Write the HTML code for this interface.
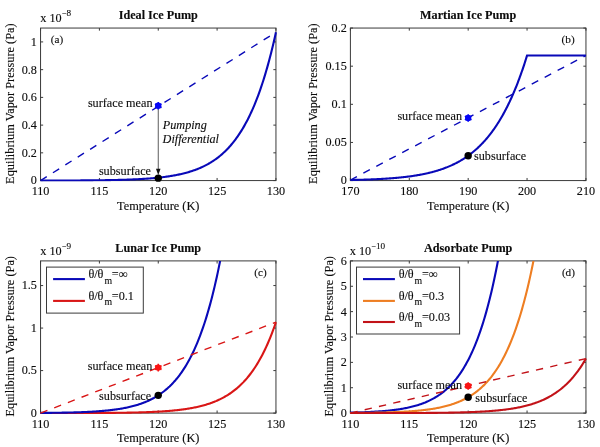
<!DOCTYPE html>
<html lang="en"><head><meta charset="utf-8"><title>Ice Pump Figure</title>
<style>html,body{margin:0;padding:0;background:#fff;}svg{display:block}text{stroke:#0c0c0c;stroke-width:.12px}</style></head>
<body>
<svg width="600" height="447" viewBox="0 0 600 447" font-family='"Liberation Serif", "DejaVu Serif", serif' fill="#0c0c0c">
<clipPath id="c1"><rect x="39.55" y="28.05" width="237.40" height="153.52"/></clipPath>
<rect x="40.55" y="28.05" width="235.40" height="152.52" fill="none" stroke="#3a3a3a" stroke-width="1.0"/>
<path d="M40.55,180.57v-2.6M40.55,28.05v2.6M99.40,180.57v-2.6M99.40,28.05v2.6M158.25,180.57v-2.6M158.25,28.05v2.6M217.10,180.57v-2.6M217.10,28.05v2.6M275.95,180.57v-2.6M275.95,28.05v2.6M40.55,180.57h2.6M275.95,180.57h-2.6M40.55,152.84h2.6M275.95,152.84h-2.6M40.55,125.11h2.6M275.95,125.11h-2.6M40.55,97.38h2.6M275.95,97.38h-2.6M40.55,69.65h2.6M275.95,69.65h-2.6M40.55,41.92h2.6M275.95,41.92h-2.6" stroke="#3a3a3a" stroke-width="1.0" fill="none"/>
<path clip-path="url(#c1)" d="M40.55,180.54 L41.53,180.54 L42.52,180.54 L43.50,180.54 L44.49,180.54 L45.47,180.54 L46.46,180.53 L47.44,180.53 L48.43,180.53 L49.41,180.53 L50.40,180.53 L51.38,180.53 L52.37,180.52 L53.35,180.52 L54.34,180.52 L55.32,180.52 L56.31,180.52 L57.29,180.51 L58.28,180.51 L59.26,180.51 L60.25,180.51 L61.23,180.50 L62.22,180.50 L63.20,180.50 L64.19,180.49 L65.17,180.49 L66.16,180.49 L67.14,180.48 L68.13,180.48 L69.11,180.48 L70.10,180.47 L71.08,180.47 L72.07,180.47 L73.05,180.46 L74.04,180.46 L75.02,180.45 L76.01,180.45 L76.99,180.44 L77.98,180.44 L78.96,180.43 L79.95,180.43 L80.93,180.42 L81.92,180.41 L82.90,180.41 L83.89,180.40 L84.87,180.39 L85.86,180.39 L86.84,180.38 L87.83,180.37 L88.81,180.36 L89.80,180.36 L90.78,180.35 L91.77,180.34 L92.75,180.33 L93.74,180.32 L94.72,180.31 L95.71,180.30 L96.69,180.29 L97.68,180.28 L98.66,180.27 L99.65,180.25 L100.63,180.24 L101.62,180.23 L102.60,180.21 L103.59,180.20 L104.57,180.19 L105.56,180.17 L106.54,180.16 L107.53,180.14 L108.51,180.12 L109.50,180.10 L110.48,180.09 L111.47,180.07 L112.45,180.05 L113.44,180.03 L114.42,180.01 L115.41,179.99 L116.39,179.96 L117.38,179.94 L118.36,179.92 L119.34,179.89 L120.33,179.86 L121.31,179.84 L122.30,179.81 L123.28,179.78 L124.27,179.75 L125.25,179.72 L126.24,179.69 L127.22,179.65 L128.21,179.62 L129.19,179.58 L130.18,179.54 L131.16,179.50 L132.15,179.46 L133.13,179.42 L134.12,179.38 L135.10,179.33 L136.09,179.29 L137.07,179.24 L138.06,179.19 L139.04,179.14 L140.03,179.09 L141.01,179.03 L142.00,178.97 L142.98,178.91 L143.97,178.85 L144.95,178.79 L145.94,178.72 L146.92,178.65 L147.91,178.58 L148.89,178.51 L149.88,178.43 L150.86,178.36 L151.85,178.27 L152.83,178.19 L153.82,178.10 L154.80,178.01 L155.79,177.92 L156.77,177.82 L157.76,177.72 L158.74,177.62 L159.73,177.51 L160.71,177.40 L161.70,177.29 L162.68,177.17 L163.67,177.05 L164.65,176.92 L165.64,176.79 L166.62,176.65 L167.61,176.51 L168.59,176.37 L169.58,176.22 L170.56,176.06 L171.55,175.90 L172.53,175.73 L173.52,175.56 L174.50,175.38 L175.49,175.20 L176.47,175.01 L177.46,174.81 L178.44,174.61 L179.43,174.40 L180.41,174.18 L181.40,173.96 L182.38,173.73 L183.37,173.49 L184.35,173.24 L185.34,172.98 L186.32,172.72 L187.31,172.44 L188.29,172.16 L189.28,171.87 L190.26,171.57 L191.25,171.25 L192.23,170.93 L193.22,170.60 L194.20,170.25 L195.19,169.90 L196.17,169.53 L197.16,169.15 L198.14,168.76 L199.12,168.35 L200.11,167.93 L201.09,167.50 L202.08,167.06 L203.06,166.59 L204.05,166.12 L205.03,165.63 L206.02,165.12 L207.00,164.59 L207.99,164.05 L208.97,163.49 L209.96,162.92 L210.94,162.32 L211.93,161.71 L212.91,161.07 L213.90,160.42 L214.88,159.74 L215.87,159.04 L216.85,158.32 L217.84,157.58 L218.82,156.81 L219.81,156.02 L220.79,155.20 L221.78,154.36 L222.76,153.49 L223.75,152.59 L224.73,151.67 L225.72,150.71 L226.70,149.73 L227.69,148.71 L228.67,147.66 L229.66,146.58 L230.64,145.46 L231.63,144.31 L232.61,143.12 L233.60,141.90 L234.58,140.64 L235.57,139.33 L236.55,137.99 L237.54,136.60 L238.52,135.18 L239.51,133.70 L240.49,132.19 L241.48,130.62 L242.46,129.01 L243.45,127.34 L244.43,125.63 L245.42,123.86 L246.40,122.04 L247.39,120.16 L248.37,118.22 L249.36,116.23 L250.34,114.17 L251.33,112.05 L252.31,109.86 L253.30,107.61 L254.28,105.29 L255.27,102.90 L256.25,100.44 L257.24,97.90 L258.22,95.29 L259.21,92.59 L260.19,89.82 L261.18,86.96 L262.16,84.01 L263.15,80.98 L264.13,77.85 L265.12,74.63 L266.10,71.32 L267.09,67.90 L268.07,64.39 L269.06,60.77 L270.04,57.04 L271.03,53.19 L272.01,49.24 L273.00,45.17 L273.98,40.97 L274.97,36.66 L275.95,32.21" stroke="#0909b8" stroke-width="2.1" fill="none" stroke-linejoin="round"/>
<path clip-path="url(#c1)" d="M40.55,180.54L275.95,32.21" stroke="#0909b8" stroke-width="1.4" stroke-dasharray="7.35 7.3" fill="none"/>
<path d="M158.25,107.70L158.25,171.67" stroke="#333" stroke-width="0.8" fill="none"/>
<path d="M155.95,168.87L160.55,168.87L158.25,175.07Z" fill="#111"/>
<circle cx="158.25" cy="105.70" r="3.2" fill="#0505f5"/>
<path d="M158.25,101.90L158.25,109.50M154.96,103.80L161.54,107.60M161.54,103.80L154.96,107.60" stroke="#0505f5" stroke-width="1.5" fill="none"/>
<circle cx="158.25" cy="178.17" r="3.7" fill="#000"/>
<text x="40.55" y="195.17" text-anchor="middle" font-size="12.2">110</text>
<text x="99.40" y="195.17" text-anchor="middle" font-size="12.2">115</text>
<text x="158.25" y="195.17" text-anchor="middle" font-size="12.2">120</text>
<text x="217.10" y="195.17" text-anchor="middle" font-size="12.2">125</text>
<text x="275.95" y="195.17" text-anchor="middle" font-size="12.2">130</text>
<text x="36.95" y="184.47" text-anchor="end" font-size="12.2">0</text>
<text x="36.95" y="156.74" text-anchor="end" font-size="12.2">0.2</text>
<text x="36.95" y="129.01" text-anchor="end" font-size="12.2">0.4</text>
<text x="36.95" y="101.28" text-anchor="end" font-size="12.2">0.6</text>
<text x="36.95" y="73.55" text-anchor="end" font-size="12.2">0.8</text>
<text x="36.95" y="45.82" text-anchor="end" font-size="12.2">1</text>
<text x="158.25" y="19.0" text-anchor="middle" font-weight="bold" font-size="12.2">Ideal Ice Pump</text>
<text x="40.3" y="22.2" font-size="12.2">x 10<tspan dx="0.3" dy="-6.2" font-size="8">−</tspan><tspan font-size="9.2">8</tspan></text>
<text x="158.25" y="209.6" text-anchor="middle" font-size="12.35">Temperature (K)</text>
<text transform="translate(14.1,103.61) rotate(-90)" text-anchor="middle" font-size="12.35">Equilibrium Vapor Pressure (Pa)</text>
<text x="56.9" y="43.0" text-anchor="middle" font-size="11.2" >(a)</text>
<text x="152.5" y="106.9" text-anchor="end" font-size="12.2" >surface mean</text>
<text x="151.0" y="174.8" text-anchor="end" font-size="12.2" >subsurface</text>
<text x="162.8" y="129.4" text-anchor="start" font-size="12.2" font-style="italic">Pumping</text>
<text x="162.6" y="142.6" text-anchor="start" font-size="12.2" font-style="italic">Differential</text>
<clipPath id="c2"><rect x="349.40" y="28.05" width="237.55" height="153.52"/></clipPath>
<rect x="350.40" y="28.05" width="235.55" height="152.52" fill="none" stroke="#3a3a3a" stroke-width="1.0"/>
<path d="M350.40,180.57v-2.6M350.40,28.05v2.6M409.29,180.57v-2.6M409.29,28.05v2.6M468.18,180.57v-2.6M468.18,28.05v2.6M527.06,180.57v-2.6M527.06,28.05v2.6M585.95,180.57v-2.6M585.95,28.05v2.6M350.4,180.57h2.6M585.95,180.57h-2.6M350.4,142.44h2.6M585.95,142.44h-2.6M350.4,104.31h2.6M585.95,104.31h-2.6M350.4,66.18h2.6M585.95,66.18h-2.6M350.4,28.05h2.6M585.95,28.05h-2.6" stroke="#3a3a3a" stroke-width="1.0" fill="none"/>
<path clip-path="url(#c2)" d="M350.40,180.02 L350.99,180.00 L351.58,179.99 L352.17,179.98 L352.76,179.97 L353.35,179.95 L353.95,179.94 L354.54,179.93 L355.13,179.91 L355.72,179.90 L356.31,179.88 L356.90,179.87 L357.49,179.85 L358.08,179.84 L358.67,179.82 L359.26,179.81 L359.85,179.79 L360.44,179.78 L361.04,179.76 L361.63,179.74 L362.22,179.72 L362.81,179.71 L363.40,179.69 L363.99,179.67 L364.58,179.65 L365.17,179.63 L365.76,179.61 L366.35,179.59 L366.94,179.57 L367.53,179.55 L368.13,179.53 L368.72,179.51 L369.31,179.49 L369.90,179.46 L370.49,179.44 L371.08,179.42 L371.67,179.39 L372.26,179.37 L372.85,179.34 L373.44,179.32 L374.03,179.29 L374.62,179.27 L375.22,179.24 L375.81,179.21 L376.40,179.19 L376.99,179.16 L377.58,179.13 L378.17,179.10 L378.76,179.07 L379.35,179.04 L379.94,179.01 L380.53,178.98 L381.12,178.94 L381.71,178.91 L382.31,178.88 L382.90,178.84 L383.49,178.81 L384.08,178.77 L384.67,178.74 L385.26,178.70 L385.85,178.66 L386.44,178.62 L387.03,178.58 L387.62,178.54 L388.21,178.50 L388.80,178.46 L389.40,178.42 L389.99,178.38 L390.58,178.33 L391.17,178.29 L391.76,178.24 L392.35,178.20 L392.94,178.15 L393.53,178.10 L394.12,178.05 L394.71,178.00 L395.30,177.95 L395.90,177.90 L396.49,177.85 L397.08,177.80 L397.67,177.74 L398.26,177.69 L398.85,177.63 L399.44,177.57 L400.03,177.51 L400.62,177.45 L401.21,177.39 L401.80,177.33 L402.39,177.27 L402.99,177.20 L403.58,177.14 L404.17,177.07 L404.76,177.00 L405.35,176.94 L405.94,176.87 L406.53,176.79 L407.12,176.72 L407.71,176.65 L408.30,176.57 L408.89,176.49 L409.48,176.42 L410.08,176.34 L410.67,176.26 L411.26,176.17 L411.85,176.09 L412.44,176.00 L413.03,175.92 L413.62,175.83 L414.21,175.74 L414.80,175.65 L415.39,175.55 L415.98,175.46 L416.57,175.36 L417.17,175.26 L417.76,175.16 L418.35,175.06 L418.94,174.95 L419.53,174.85 L420.12,174.74 L420.71,174.63 L421.30,174.52 L421.89,174.41 L422.48,174.29 L423.07,174.17 L423.66,174.05 L424.26,173.93 L424.85,173.81 L425.44,173.68 L426.03,173.55 L426.62,173.42 L427.21,173.29 L427.80,173.16 L428.39,173.02 L428.98,172.88 L429.57,172.74 L430.16,172.59 L430.75,172.45 L431.35,172.30 L431.94,172.14 L432.53,171.99 L433.12,171.83 L433.71,171.67 L434.30,171.51 L434.89,171.34 L435.48,171.17 L436.07,171.00 L436.66,170.83 L437.25,170.65 L437.84,170.47 L438.44,170.29 L439.03,170.10 L439.62,169.91 L440.21,169.72 L440.80,169.52 L441.39,169.32 L441.98,169.12 L442.57,168.91 L443.16,168.70 L443.75,168.49 L444.34,168.27 L444.94,168.05 L445.53,167.82 L446.12,167.59 L446.71,167.36 L447.30,167.12 L447.89,166.88 L448.48,166.64 L449.07,166.39 L449.66,166.14 L450.25,165.88 L450.84,165.62 L451.43,165.36 L452.03,165.09 L452.62,164.81 L453.21,164.53 L453.80,164.25 L454.39,163.96 L454.98,163.67 L455.57,163.37 L456.16,163.07 L456.75,162.76 L457.34,162.45 L457.93,162.13 L458.52,161.81 L459.12,161.48 L459.71,161.14 L460.30,160.81 L460.89,160.46 L461.48,160.11 L462.07,159.75 L462.66,159.39 L463.25,159.02 L463.84,158.65 L464.43,158.27 L465.02,157.88 L465.61,157.49 L466.21,157.09 L466.80,156.69 L467.39,156.27 L467.98,155.86 L468.57,155.43 L469.16,155.00 L469.75,154.56 L470.34,154.11 L470.93,153.66 L471.52,153.20 L472.11,152.73 L472.70,152.26 L473.30,151.77 L473.89,151.28 L474.48,150.78 L475.07,150.28 L475.66,149.76 L476.25,149.24 L476.84,148.71 L477.43,148.17 L478.02,147.62 L478.61,147.06 L479.20,146.50 L479.79,145.92 L480.39,145.34 L480.98,144.75 L481.57,144.14 L482.16,143.53 L482.75,142.91 L483.34,142.28 L483.93,141.64 L484.52,140.99 L485.11,140.33 L485.70,139.65 L486.29,138.97 L486.89,138.28 L487.48,137.58 L488.07,136.86 L488.66,136.14 L489.25,135.40 L489.84,134.65 L490.43,133.89 L491.02,133.12 L491.61,132.33 L492.20,131.54 L492.79,130.73 L493.38,129.91 L493.98,129.08 L494.57,128.23 L495.16,127.37 L495.75,126.50 L496.34,125.61 L496.93,124.72 L497.52,123.80 L498.11,122.88 L498.70,121.93 L499.29,120.98 L499.88,120.01 L500.47,119.02 L501.07,118.02 L501.66,117.01 L502.25,115.98 L502.84,114.93 L503.43,113.87 L504.02,112.79 L504.61,111.70 L505.20,110.59 L505.79,109.46 L506.38,108.32 L506.97,107.16 L507.56,105.98 L508.16,104.78 L508.75,103.57 L509.34,102.33 L509.93,101.08 L510.52,99.81 L511.11,98.52 L511.70,97.21 L512.29,95.89 L512.88,94.54 L513.47,93.17 L514.06,91.78 L514.65,90.38 L515.25,88.95 L515.84,87.50 L516.43,86.02 L517.02,84.53 L517.61,83.01 L518.20,81.48 L518.79,79.91 L519.38,78.33 L519.97,76.72 L520.56,75.09 L521.15,73.44 L521.74,71.76 L522.34,70.06 L522.93,68.33 L523.52,66.57 L524.11,64.80 L524.70,62.99 L525.29,61.16 L525.88,59.30 L526.47,57.42 L527.06,55.50 L585.95,55.50" stroke="#0909b8" stroke-width="2.1" fill="none" stroke-linejoin="miter"/>
<path clip-path="url(#c2)" d="M350.40,180.02L585.95,55.50" stroke="#0909b8" stroke-width="1.4" stroke-dasharray="7.35 7.3" fill="none"/>
<circle cx="468.18" cy="118.04" r="3.2" fill="#0505f5"/>
<path d="M468.18,114.24L468.18,121.84M464.88,116.14L471.47,119.94M471.47,116.14L464.88,119.94" stroke="#0505f5" stroke-width="1.5" fill="none"/>
<circle cx="468.18" cy="155.72" r="3.7" fill="#000"/>
<text x="350.40" y="195.17" text-anchor="middle" font-size="12.2">170</text>
<text x="409.29" y="195.17" text-anchor="middle" font-size="12.2">180</text>
<text x="468.18" y="195.17" text-anchor="middle" font-size="12.2">190</text>
<text x="527.06" y="195.17" text-anchor="middle" font-size="12.2">200</text>
<text x="585.95" y="195.17" text-anchor="middle" font-size="12.2">210</text>
<text x="346.80" y="184.47" text-anchor="end" font-size="12.2">0</text>
<text x="346.80" y="146.34" text-anchor="end" font-size="12.2">0.05</text>
<text x="346.80" y="108.21" text-anchor="end" font-size="12.2">0.1</text>
<text x="346.80" y="70.08" text-anchor="end" font-size="12.2">0.15</text>
<text x="346.80" y="31.95" text-anchor="end" font-size="12.2">0.2</text>
<text x="468.18" y="19.0" text-anchor="middle" font-weight="bold" font-size="12.2">Martian Ice Pump</text>
<text x="468.18" y="209.6" text-anchor="middle" font-size="12.35">Temperature (K)</text>
<text transform="translate(317.0,103.61) rotate(-90)" text-anchor="middle" font-size="12.35">Equilibrium Vapor Pressure (Pa)</text>
<text x="568.1" y="43.0" text-anchor="middle" font-size="11.2" >(b)</text>
<text x="462" y="119.9" text-anchor="end" font-size="12.2" >surface mean</text>
<text x="474" y="159.8" text-anchor="start" font-size="12.2" >subsurface</text>
<clipPath id="c3"><rect x="39.55" y="260.90" width="237.40" height="153.20"/></clipPath>
<rect x="40.55" y="260.90" width="235.40" height="152.20" fill="none" stroke="#3a3a3a" stroke-width="1.0"/>
<path d="M40.55,413.1v-2.6M40.55,260.9v2.6M99.40,413.1v-2.6M99.40,260.9v2.6M158.25,413.1v-2.6M158.25,260.9v2.6M217.10,413.1v-2.6M217.10,260.9v2.6M275.95,413.1v-2.6M275.95,260.9v2.6M40.55,413.10h2.6M275.95,413.10h-2.6M40.55,370.59h2.6M275.95,370.59h-2.6M40.55,328.07h2.6M275.95,328.07h-2.6M40.55,285.56h2.6M275.95,285.56h-2.6" stroke="#3a3a3a" stroke-width="1.0" fill="none"/>
<path clip-path="url(#c3)" d="M40.55,413.09 L41.53,413.09 L42.52,413.09 L43.50,413.09 L44.49,413.09 L45.47,413.09 L46.46,413.09 L47.44,413.09 L48.43,413.08 L49.41,413.08 L50.40,413.08 L51.38,413.08 L52.37,413.08 L53.35,413.08 L54.34,413.08 L55.32,413.08 L56.31,413.08 L57.29,413.08 L58.28,413.08 L59.26,413.07 L60.25,413.07 L61.23,413.07 L62.22,413.07 L63.20,413.07 L64.19,413.07 L65.17,413.07 L66.16,413.07 L67.14,413.06 L68.13,413.06 L69.11,413.06 L70.10,413.06 L71.08,413.06 L72.07,413.06 L73.05,413.05 L74.04,413.05 L75.02,413.05 L76.01,413.05 L76.99,413.05 L77.98,413.04 L78.96,413.04 L79.95,413.04 L80.93,413.04 L81.92,413.03 L82.90,413.03 L83.89,413.03 L84.87,413.02 L85.86,413.02 L86.84,413.02 L87.83,413.01 L88.81,413.01 L89.80,413.01 L90.78,413.00 L91.77,413.00 L92.75,412.99 L93.74,412.99 L94.72,412.98 L95.71,412.98 L96.69,412.97 L97.68,412.97 L98.66,412.96 L99.65,412.96 L100.63,412.95 L101.62,412.95 L102.60,412.94 L103.59,412.93 L104.57,412.93 L105.56,412.92 L106.54,412.91 L107.53,412.90 L108.51,412.90 L109.50,412.89 L110.48,412.88 L111.47,412.87 L112.45,412.86 L113.44,412.85 L114.42,412.84 L115.41,412.83 L116.39,412.82 L117.38,412.81 L118.36,412.79 L119.34,412.78 L120.33,412.77 L121.31,412.76 L122.30,412.74 L123.28,412.73 L124.27,412.71 L125.25,412.70 L126.24,412.68 L127.22,412.66 L128.21,412.65 L129.19,412.63 L130.18,412.61 L131.16,412.59 L132.15,412.57 L133.13,412.55 L134.12,412.53 L135.10,412.51 L136.09,412.48 L137.07,412.46 L138.06,412.43 L139.04,412.41 L140.03,412.38 L141.01,412.35 L142.00,412.32 L142.98,412.29 L143.97,412.26 L144.95,412.23 L145.94,412.19 L146.92,412.16 L147.91,412.12 L148.89,412.08 L149.88,412.04 L150.86,412.00 L151.85,411.96 L152.83,411.92 L153.82,411.87 L154.80,411.82 L155.79,411.77 L156.77,411.72 L157.76,411.67 L158.74,411.62 L159.73,411.56 L160.71,411.50 L161.70,411.44 L162.68,411.38 L163.67,411.31 L164.65,411.24 L165.64,411.17 L166.62,411.10 L167.61,411.03 L168.59,410.95 L169.58,410.87 L170.56,410.78 L171.55,410.70 L172.53,410.61 L173.52,410.51 L174.50,410.42 L175.49,410.32 L176.47,410.21 L177.46,410.10 L178.44,409.99 L179.43,409.88 L180.41,409.76 L181.40,409.64 L182.38,409.51 L183.37,409.37 L184.35,409.24 L185.34,409.10 L186.32,408.95 L187.31,408.80 L188.29,408.64 L189.28,408.48 L190.26,408.31 L191.25,408.13 L192.23,407.95 L193.22,407.76 L194.20,407.57 L195.19,407.37 L196.17,407.16 L197.16,406.95 L198.14,406.73 L199.12,406.50 L200.11,406.26 L201.09,406.01 L202.08,405.76 L203.06,405.49 L204.05,405.22 L205.03,404.94 L206.02,404.65 L207.00,404.35 L207.99,404.03 L208.97,403.71 L209.96,403.38 L210.94,403.03 L211.93,402.68 L212.91,402.31 L213.90,401.93 L214.88,401.53 L215.87,401.13 L216.85,400.70 L217.84,400.27 L218.82,399.82 L219.81,399.35 L220.79,398.87 L221.78,398.37 L222.76,397.86 L223.75,397.33 L224.73,396.78 L225.72,396.21 L226.70,395.63 L227.69,395.02 L228.67,394.40 L229.66,393.75 L230.64,393.08 L231.63,392.39 L232.61,391.68 L233.60,390.94 L234.58,390.18 L235.57,389.39 L236.55,388.58 L237.54,387.74 L238.52,386.88 L239.51,385.98 L240.49,385.06 L241.48,384.11 L242.46,383.12 L243.45,382.11 L244.43,381.06 L245.42,379.97 L246.40,378.85 L247.39,377.70 L248.37,376.50 L249.36,375.27 L250.34,374.00 L251.33,372.69 L252.31,371.33 L253.30,369.94 L254.28,368.49 L255.27,367.00 L256.25,365.47 L257.24,363.88 L258.22,362.24 L259.21,360.55 L260.19,358.81 L261.18,357.01 L262.16,355.16 L263.15,353.24 L264.13,351.27 L265.12,349.23 L266.10,347.13 L267.09,344.96 L268.07,342.73 L269.06,340.42 L270.04,338.04 L271.03,335.59 L272.01,333.06 L273.00,330.45 L273.98,327.76 L274.97,324.98 L275.95,322.12" stroke="#d91616" stroke-width="2.1" fill="none" stroke-linejoin="round"/>
<path clip-path="url(#c3)" d="M40.55,412.93 L41.53,412.92 L42.52,412.92 L43.50,412.91 L44.49,412.90 L45.47,412.89 L46.46,412.88 L47.44,412.87 L48.43,412.86 L49.41,412.85 L50.40,412.84 L51.38,412.83 L52.37,412.82 L53.35,412.81 L54.34,412.79 L55.32,412.78 L56.31,412.77 L57.29,412.75 L58.28,412.74 L59.26,412.72 L60.25,412.71 L61.23,412.69 L62.22,412.67 L63.20,412.66 L64.19,412.64 L65.17,412.62 L66.16,412.60 L67.14,412.58 L68.13,412.56 L69.11,412.53 L70.10,412.51 L71.08,412.49 L72.07,412.46 L73.05,412.43 L74.04,412.41 L75.02,412.38 L76.01,412.35 L76.99,412.32 L77.98,412.29 L78.96,412.25 L79.95,412.22 L80.93,412.18 L81.92,412.14 L82.90,412.11 L83.89,412.07 L84.87,412.02 L85.86,411.98 L86.84,411.94 L87.83,411.89 L88.81,411.84 L89.80,411.79 L90.78,411.74 L91.77,411.68 L92.75,411.62 L93.74,411.57 L94.72,411.50 L95.71,411.44 L96.69,411.37 L97.68,411.31 L98.66,411.23 L99.65,411.16 L100.63,411.08 L101.62,411.00 L102.60,410.92 L103.59,410.84 L104.57,410.75 L105.56,410.65 L106.54,410.56 L107.53,410.46 L108.51,410.36 L109.50,410.25 L110.48,410.14 L111.47,410.02 L112.45,409.90 L113.44,409.78 L114.42,409.65 L115.41,409.52 L116.39,409.38 L117.38,409.23 L118.36,409.08 L119.34,408.93 L120.33,408.77 L121.31,408.60 L122.30,408.43 L123.28,408.25 L124.27,408.07 L125.25,407.88 L126.24,407.68 L127.22,407.47 L128.21,407.26 L129.19,407.03 L130.18,406.80 L131.16,406.57 L132.15,406.32 L133.13,406.06 L134.12,405.80 L135.10,405.53 L136.09,405.24 L137.07,404.95 L138.06,404.64 L139.04,404.32 L140.03,404.00 L141.01,403.66 L142.00,403.31 L142.98,402.94 L143.97,402.57 L144.95,402.18 L145.94,401.77 L146.92,401.35 L147.91,400.92 L148.89,400.47 L149.88,400.01 L150.86,399.52 L151.85,399.03 L152.83,398.51 L153.82,397.98 L154.80,397.42 L155.79,396.85 L156.77,396.26 L157.76,395.65 L158.74,395.01 L159.73,394.36 L160.71,393.68 L161.70,392.98 L162.68,392.25 L163.67,391.50 L164.65,390.72 L165.64,389.91 L166.62,389.08 L167.61,388.22 L168.59,387.33 L169.58,386.41 L170.56,385.45 L171.55,384.47 L172.53,383.45 L173.52,382.39 L174.50,381.30 L175.49,380.18 L176.47,379.01 L177.46,377.80 L178.44,376.56 L179.43,375.27 L180.41,373.94 L181.40,372.56 L182.38,371.14 L183.37,369.66 L184.35,368.14 L185.34,366.57 L186.32,364.95 L187.31,363.27 L188.29,361.53 L189.28,359.74 L190.26,357.88 L191.25,355.97 L192.23,353.99 L193.22,351.95 L194.20,349.83 L195.19,347.65 L196.17,345.40 L197.16,343.07 L198.14,340.66 L199.12,338.18 L200.11,335.61 L201.09,332.96 L202.08,330.22 L203.06,327.40 L204.05,324.48 L205.03,321.46 L206.02,318.35 L207.00,315.14 L207.99,311.82 L208.97,308.39 L209.96,304.85 L210.94,301.20 L211.93,297.43 L212.91,293.54 L213.90,289.52 L214.88,285.37 L215.87,281.09 L216.85,276.68 L217.84,272.12 L218.82,267.41 L219.81,262.56 L220.79,257.55 L221.78,252.37 L222.76,247.04 L223.75,241.54 L224.73,235.86 L225.72,230.00 L226.70,223.95 L227.69,217.72 L228.67,211.28 L229.66,204.65 L230.64,197.80 L231.63,190.74 L232.61,183.46 L233.60,175.95 L234.58,168.21 L235.57,160.22 L236.55,151.98 L237.54,143.49 L238.52,134.73 L239.51,125.70 L240.49,116.39 L241.48,106.79 L242.46,96.89 L243.45,86.69 L244.43,76.17 L245.42,65.33 L246.40,54.15 L247.39,42.63 L248.37,30.76 L249.36,18.52 L250.34,5.90 L251.33,-7.10 L252.31,-20.49 L253.30,-34.30 L254.28,-48.53 L255.27,-63.18 L256.25,-78.29 L257.24,-93.85 L258.22,-109.89 L259.21,-126.41 L260.19,-143.43 L261.18,-160.96 L262.16,-179.02 L263.15,-197.63 L264.13,-216.79 L265.12,-236.53 L266.10,-256.87 L267.09,-277.81 L268.07,-299.37 L269.06,-321.58 L270.04,-344.46 L271.03,-368.01 L272.01,-392.27 L273.00,-417.24 L273.98,-442.96 L274.97,-469.44 L275.95,-496.70" stroke="#0909b8" stroke-width="2.1" fill="none" stroke-linejoin="round"/>
<path clip-path="url(#c3)" d="M40.55,413.09L275.95,322.12" stroke="#d91616" stroke-width="1.4" stroke-dasharray="7.35 7.3" fill="none"/>
<circle cx="158.25" cy="367.61" r="3.2" fill="#fa1414"/>
<path d="M158.25,363.81L158.25,371.41M154.96,365.71L161.54,369.51M161.54,365.71L154.96,369.51" stroke="#fa1414" stroke-width="1.5" fill="none"/>
<circle cx="158.25" cy="395.33" r="3.7" fill="#000"/>
<text x="40.55" y="427.70" text-anchor="middle" font-size="12.2">110</text>
<text x="99.40" y="427.70" text-anchor="middle" font-size="12.2">115</text>
<text x="158.25" y="427.70" text-anchor="middle" font-size="12.2">120</text>
<text x="217.10" y="427.70" text-anchor="middle" font-size="12.2">125</text>
<text x="275.95" y="427.70" text-anchor="middle" font-size="12.2">130</text>
<text x="36.95" y="417.00" text-anchor="end" font-size="12.2">0</text>
<text x="36.95" y="374.49" text-anchor="end" font-size="12.2">0.5</text>
<text x="36.95" y="331.97" text-anchor="end" font-size="12.2">1</text>
<text x="36.95" y="289.46" text-anchor="end" font-size="12.2">1.5</text>
<text x="158.25" y="251.5" text-anchor="middle" font-weight="bold" font-size="12.2">Lunar Ice Pump</text>
<text x="40.3" y="254.8" font-size="12.2">x 10<tspan dx="0.3" dy="-6.2" font-size="8">−</tspan><tspan font-size="9.2">9</tspan></text>
<text x="158.25" y="441.7" text-anchor="middle" font-size="12.35">Temperature (K)</text>
<text transform="translate(14.4,336.30) rotate(-90)" text-anchor="middle" font-size="12.35">Equilibrium Vapor Pressure (Pa)</text>
<text x="260.4" y="276.0" text-anchor="middle" font-size="11.2" >(c)</text>
<text x="152.3" y="370.3" text-anchor="end" font-size="12.2" >surface mean</text>
<text x="151.2" y="399.8" text-anchor="end" font-size="12.2" >subsurface</text>
<rect x="46.5" y="267.1" width="96.80000000000001" height="46.0" fill="#fff" stroke="#3a3a3a" stroke-width="1.0"/>
<path d="M53.1,279.1H84.9" stroke="#0909b8" stroke-width="2.1" fill="none"/>
<text x="88.6" y="278.30" font-size="12.2" textLength="14.8" lengthAdjust="spacing">θ/θ</text>
<text x="104.40" y="283.60" font-size="9.8">m</text>
<text x="111.80" y="278.30" font-size="12.2">=∞</text>
<path d="M53.1,300.9H84.9" stroke="#d91616" stroke-width="2.1" fill="none"/>
<text x="88.6" y="300.10" font-size="12.2" textLength="14.8" lengthAdjust="spacing">θ/θ</text>
<text x="104.40" y="305.40" font-size="9.8">m</text>
<text x="111.80" y="300.10" font-size="12.2">=0.1</text>
<clipPath id="c4"><rect x="349.40" y="260.90" width="237.55" height="153.20"/></clipPath>
<rect x="350.40" y="260.90" width="235.55" height="152.20" fill="none" stroke="#3a3a3a" stroke-width="1.0"/>
<path d="M350.40,413.1v-2.6M350.40,260.9v2.6M409.29,413.1v-2.6M409.29,260.9v2.6M468.18,413.1v-2.6M468.18,260.9v2.6M527.06,413.1v-2.6M527.06,260.9v2.6M585.95,413.1v-2.6M585.95,260.9v2.6M350.4,413.10h2.6M585.95,413.10h-2.6M350.4,387.73h2.6M585.95,387.73h-2.6M350.4,362.37h2.6M585.95,362.37h-2.6M350.4,337.00h2.6M585.95,337.00h-2.6M350.4,311.63h2.6M585.95,311.63h-2.6M350.4,286.27h2.6M585.95,286.27h-2.6M350.4,260.90h2.6M585.95,260.90h-2.6" stroke="#3a3a3a" stroke-width="1.0" fill="none"/>
<path clip-path="url(#c4)" d="M350.40,412.59 L351.39,412.57 L352.37,412.55 L353.36,412.53 L354.34,412.50 L355.33,412.47 L356.31,412.45 L357.30,412.42 L358.28,412.39 L359.27,412.36 L360.26,412.33 L361.24,412.30 L362.23,412.26 L363.21,412.23 L364.20,412.19 L365.18,412.15 L366.17,412.11 L367.15,412.07 L368.14,412.02 L369.13,411.98 L370.11,411.93 L371.10,411.88 L372.08,411.83 L373.07,411.78 L374.05,411.72 L375.04,411.67 L376.02,411.61 L377.01,411.54 L378.00,411.48 L378.98,411.41 L379.97,411.34 L380.95,411.27 L381.94,411.19 L382.92,411.11 L383.91,411.03 L384.89,410.95 L385.88,410.86 L386.87,410.77 L387.85,410.67 L388.84,410.57 L389.82,410.47 L390.81,410.36 L391.79,410.25 L392.78,410.13 L393.76,410.01 L394.75,409.89 L395.74,409.76 L396.72,409.62 L397.71,409.48 L398.69,409.34 L399.68,409.19 L400.66,409.03 L401.65,408.87 L402.63,408.70 L403.62,408.52 L404.61,408.34 L405.59,408.15 L406.58,407.95 L407.56,407.75 L408.55,407.53 L409.53,407.31 L410.52,407.09 L411.51,406.85 L412.49,406.60 L413.48,406.34 L414.46,406.08 L415.45,405.80 L416.43,405.52 L417.42,405.22 L418.40,404.91 L419.39,404.59 L420.38,404.26 L421.36,403.92 L422.35,403.56 L423.33,403.19 L424.32,402.80 L425.30,402.41 L426.29,401.99 L427.27,401.56 L428.26,401.12 L429.25,400.66 L430.23,400.18 L431.22,399.68 L432.20,399.17 L433.19,398.64 L434.17,398.09 L435.16,397.51 L436.14,396.92 L437.13,396.30 L438.12,395.67 L439.10,395.00 L440.09,394.32 L441.07,393.61 L442.06,392.87 L443.04,392.11 L444.03,391.32 L445.01,390.50 L446.00,389.65 L446.99,388.77 L447.97,387.86 L448.96,386.92 L449.94,385.94 L450.93,384.93 L451.91,383.88 L452.90,382.80 L453.88,381.67 L454.87,380.51 L455.86,379.30 L456.84,378.05 L457.83,376.76 L458.81,375.42 L459.80,374.03 L460.78,372.60 L461.77,371.11 L462.75,369.57 L463.74,367.98 L464.73,366.33 L465.71,364.63 L466.70,362.86 L467.68,361.03 L468.67,359.14 L469.65,357.18 L470.64,355.16 L471.62,353.06 L472.61,350.90 L473.60,348.65 L474.58,346.33 L475.57,343.93 L476.55,341.44 L477.54,338.87 L478.52,336.22 L479.51,333.47 L480.49,330.62 L481.48,327.68 L482.47,324.64 L483.45,321.49 L484.44,318.24 L485.42,314.88 L486.41,311.40 L487.39,307.80 L488.38,304.08 L489.36,300.24 L490.35,296.26 L491.34,292.15 L492.32,287.91 L493.31,283.51 L494.29,278.98 L495.28,274.29 L496.26,269.44 L497.25,264.43 L498.23,259.25 L499.22,253.90 L500.21,248.37 L501.19,242.66 L502.18,236.75 L503.16,230.66 L504.15,224.35 L505.13,217.84 L506.12,211.12 L507.10,204.17 L508.09,197.00 L509.08,189.58 L510.06,181.93 L511.05,174.02 L512.03,165.85 L513.02,157.42 L514.00,148.71 L514.99,139.72 L515.97,130.43 L516.96,120.84 L517.95,110.94 L518.93,100.71 L519.92,90.16 L520.90,79.26 L521.89,68.02 L522.87,56.41 L523.86,44.42 L524.84,32.05 L525.83,19.28 L526.82,6.10 L527.80,-7.50 L528.79,-21.54 L529.77,-36.02 L530.76,-50.97 L531.74,-66.40 L532.73,-82.31 L533.72,-98.73 L534.70,-115.68 L535.69,-133.16 L536.67,-151.19 L537.66,-169.80 L538.64,-188.99 L539.63,-208.78 L540.61,-229.20 L541.60,-250.27 L542.59,-271.99 L543.57,-294.39 L544.56,-317.50 L545.54,-341.33 L546.53,-365.90 L547.51,-391.24 L548.50,-417.37 L549.48,-444.31 L550.47,-472.09 L551.46,-500.73 L552.44,-530.25 L553.43,-560.69 L554.41,-592.07 L555.40,-624.42 L556.38,-657.76 L557.37,-692.13 L558.35,-727.56 L559.34,-764.07 L560.33,-801.70 L561.31,-840.49 L562.30,-880.45 L563.28,-921.64 L564.27,-964.08 L565.25,-1007.82 L566.24,-1052.88 L567.22,-1099.31 L568.21,-1147.15 L569.20,-1196.43 L570.18,-1247.21 L571.17,-1299.51 L572.15,-1353.40 L573.14,-1408.91 L574.12,-1466.08 L575.11,-1524.97 L576.09,-1585.63 L577.08,-1648.10 L578.07,-1712.44 L579.05,-1778.71 L580.04,-1846.95 L581.02,-1917.22 L582.01,-1989.58 L582.99,-2064.09 L583.98,-2140.81 L584.96,-2219.80 L585.95,-2301.13" stroke="#0909b8" stroke-width="2.1" fill="none" stroke-linejoin="round"/>
<path clip-path="url(#c4)" d="M350.40,412.95 L351.39,412.94 L352.37,412.93 L353.36,412.93 L354.34,412.92 L355.33,412.91 L356.31,412.90 L357.30,412.90 L358.28,412.89 L359.27,412.88 L360.26,412.87 L361.24,412.86 L362.23,412.85 L363.21,412.84 L364.20,412.83 L365.18,412.82 L366.17,412.80 L367.15,412.79 L368.14,412.78 L369.13,412.76 L370.11,412.75 L371.10,412.73 L372.08,412.72 L373.07,412.70 L374.05,412.69 L375.04,412.67 L376.02,412.65 L377.01,412.63 L378.00,412.61 L378.98,412.59 L379.97,412.57 L380.95,412.55 L381.94,412.53 L382.92,412.50 L383.91,412.48 L384.89,412.45 L385.88,412.43 L386.87,412.40 L387.85,412.37 L388.84,412.34 L389.82,412.31 L390.81,412.28 L391.79,412.25 L392.78,412.21 L393.76,412.17 L394.75,412.14 L395.74,412.10 L396.72,412.06 L397.71,412.02 L398.69,411.97 L399.68,411.93 L400.66,411.88 L401.65,411.83 L402.63,411.78 L403.62,411.73 L404.61,411.67 L405.59,411.61 L406.58,411.56 L407.56,411.49 L408.55,411.43 L409.53,411.36 L410.52,411.30 L411.51,411.22 L412.49,411.15 L413.48,411.07 L414.46,410.99 L415.45,410.91 L416.43,410.83 L417.42,410.74 L418.40,410.64 L419.39,410.55 L420.38,410.45 L421.36,410.34 L422.35,410.24 L423.33,410.13 L424.32,410.01 L425.30,409.89 L426.29,409.77 L427.27,409.64 L428.26,409.51 L429.25,409.37 L430.23,409.22 L431.22,409.08 L432.20,408.92 L433.19,408.76 L434.17,408.60 L435.16,408.42 L436.14,408.25 L437.13,408.06 L438.12,407.87 L439.10,407.67 L440.09,407.47 L441.07,407.25 L442.06,407.03 L443.04,406.80 L444.03,406.57 L445.01,406.32 L446.00,406.07 L446.99,405.80 L447.97,405.53 L448.96,405.25 L449.94,404.95 L450.93,404.65 L451.91,404.33 L452.90,404.01 L453.88,403.67 L454.87,403.32 L455.86,402.96 L456.84,402.59 L457.83,402.20 L458.81,401.80 L459.80,401.38 L460.78,400.95 L461.77,400.50 L462.75,400.04 L463.74,399.56 L464.73,399.07 L465.71,398.56 L466.70,398.03 L467.68,397.48 L468.67,396.91 L469.65,396.33 L470.64,395.72 L471.62,395.09 L472.61,394.44 L473.60,393.77 L474.58,393.07 L475.57,392.35 L476.55,391.60 L477.54,390.83 L478.52,390.03 L479.51,389.21 L480.49,388.36 L481.48,387.47 L482.47,386.56 L483.45,385.62 L484.44,384.64 L485.42,383.63 L486.41,382.59 L487.39,381.51 L488.38,380.39 L489.36,379.24 L490.35,378.05 L491.34,376.82 L492.32,375.54 L493.31,374.22 L494.29,372.86 L495.28,371.46 L496.26,370.00 L497.25,368.50 L498.23,366.95 L499.22,365.34 L500.21,363.68 L501.19,361.97 L502.18,360.20 L503.16,358.37 L504.15,356.48 L505.13,354.52 L506.12,352.51 L507.10,350.42 L508.09,348.27 L509.08,346.05 L510.06,343.75 L511.05,341.38 L512.03,338.93 L513.02,336.40 L514.00,333.78 L514.99,331.08 L515.97,328.30 L516.96,325.42 L517.95,322.45 L518.93,319.38 L519.92,316.22 L520.90,312.95 L521.89,309.58 L522.87,306.09 L523.86,302.50 L524.84,298.78 L525.83,294.95 L526.82,291.00 L527.80,286.92 L528.79,282.71 L529.77,278.36 L530.76,273.88 L531.74,269.25 L532.73,264.48 L533.72,259.55 L534.70,254.47 L535.69,249.22 L536.67,243.81 L537.66,238.23 L538.64,232.47 L539.63,226.53 L540.61,220.41 L541.60,214.09 L542.59,207.57 L543.57,200.85 L544.56,193.92 L545.54,186.77 L546.53,179.40 L547.51,171.80 L548.50,163.96 L549.48,155.88 L550.47,147.54 L551.46,138.95 L552.44,130.09 L553.43,120.96 L554.41,111.55 L555.40,101.84 L556.38,91.84 L557.37,81.53 L558.35,70.90 L559.34,59.95 L560.33,48.66 L561.31,37.02 L562.30,25.03 L563.28,12.68 L564.27,-0.05 L565.25,-13.17 L566.24,-26.69 L567.22,-40.62 L568.21,-54.97 L569.20,-69.76 L570.18,-84.99 L571.17,-100.68 L572.15,-116.85 L573.14,-133.50 L574.12,-150.65 L575.11,-168.32 L576.09,-186.52 L577.08,-205.26 L578.07,-224.56 L579.05,-244.44 L580.04,-264.91 L581.02,-286.00 L582.01,-307.70 L582.99,-330.06 L583.98,-353.07 L584.96,-376.77 L585.95,-401.17" stroke="#ee7e22" stroke-width="2.1" fill="none" stroke-linejoin="round"/>
<path clip-path="url(#c4)" d="M350.40,413.09 L351.39,413.09 L352.37,413.09 L353.36,413.09 L354.34,413.09 L355.33,413.09 L356.31,413.09 L357.30,413.09 L358.28,413.09 L359.27,413.09 L360.26,413.09 L361.24,413.09 L362.23,413.09 L363.21,413.09 L364.20,413.09 L365.18,413.09 L366.17,413.09 L367.15,413.09 L368.14,413.08 L369.13,413.08 L370.11,413.08 L371.10,413.08 L372.08,413.08 L373.07,413.08 L374.05,413.08 L375.04,413.08 L376.02,413.08 L377.01,413.08 L378.00,413.08 L378.98,413.08 L379.97,413.07 L380.95,413.07 L381.94,413.07 L382.92,413.07 L383.91,413.07 L384.89,413.07 L385.88,413.07 L386.87,413.07 L387.85,413.06 L388.84,413.06 L389.82,413.06 L390.81,413.06 L391.79,413.06 L392.78,413.06 L393.76,413.05 L394.75,413.05 L395.74,413.05 L396.72,413.05 L397.71,413.05 L398.69,413.04 L399.68,413.04 L400.66,413.04 L401.65,413.04 L402.63,413.03 L403.62,413.03 L404.61,413.03 L405.59,413.02 L406.58,413.02 L407.56,413.02 L408.55,413.01 L409.53,413.01 L410.52,413.01 L411.51,413.00 L412.49,413.00 L413.48,412.99 L414.46,412.99 L415.45,412.99 L416.43,412.98 L417.42,412.98 L418.40,412.97 L419.39,412.97 L420.38,412.96 L421.36,412.95 L422.35,412.95 L423.33,412.94 L424.32,412.94 L425.30,412.93 L426.29,412.92 L427.27,412.92 L428.26,412.91 L429.25,412.90 L430.23,412.89 L431.22,412.88 L432.20,412.88 L433.19,412.87 L434.17,412.86 L435.16,412.85 L436.14,412.84 L437.13,412.83 L438.12,412.82 L439.10,412.81 L440.09,412.79 L441.07,412.78 L442.06,412.77 L443.04,412.76 L444.03,412.74 L445.01,412.73 L446.00,412.71 L446.99,412.70 L447.97,412.68 L448.96,412.67 L449.94,412.65 L450.93,412.63 L451.91,412.62 L452.90,412.60 L453.88,412.58 L454.87,412.56 L455.86,412.54 L456.84,412.51 L457.83,412.49 L458.81,412.47 L459.80,412.44 L460.78,412.42 L461.77,412.39 L462.75,412.37 L463.74,412.34 L464.73,412.31 L465.71,412.28 L466.70,412.25 L467.68,412.22 L468.67,412.18 L469.65,412.15 L470.64,412.11 L471.62,412.07 L472.61,412.03 L473.60,411.99 L474.58,411.95 L475.57,411.91 L476.55,411.87 L477.54,411.82 L478.52,411.77 L479.51,411.72 L480.49,411.67 L481.48,411.62 L482.47,411.56 L483.45,411.51 L484.44,411.45 L485.42,411.39 L486.41,411.32 L487.39,411.26 L488.38,411.19 L489.36,411.12 L490.35,411.05 L491.34,410.97 L492.32,410.89 L493.31,410.81 L494.29,410.73 L495.28,410.64 L496.26,410.55 L497.25,410.46 L498.23,410.36 L499.22,410.26 L500.21,410.16 L501.19,410.05 L502.18,409.94 L503.16,409.83 L504.15,409.71 L505.13,409.59 L506.12,409.46 L507.10,409.33 L508.09,409.20 L509.08,409.06 L510.06,408.92 L511.05,408.77 L512.03,408.61 L513.02,408.45 L514.00,408.29 L514.99,408.12 L515.97,407.94 L516.96,407.76 L517.95,407.57 L518.93,407.37 L519.92,407.17 L520.90,406.96 L521.89,406.75 L522.87,406.52 L523.86,406.29 L524.84,406.05 L525.83,405.81 L526.82,405.55 L527.80,405.29 L528.79,405.02 L529.77,404.74 L530.76,404.45 L531.74,404.15 L532.73,403.84 L533.72,403.52 L534.70,403.19 L535.69,402.84 L536.67,402.49 L537.66,402.13 L538.64,401.75 L539.63,401.36 L540.61,400.96 L541.60,400.54 L542.59,400.11 L543.57,399.67 L544.56,399.21 L545.54,398.74 L546.53,398.25 L547.51,397.75 L548.50,397.23 L549.48,396.69 L550.47,396.14 L551.46,395.57 L552.44,394.97 L553.43,394.36 L554.41,393.73 L555.40,393.08 L556.38,392.41 L557.37,391.72 L558.35,391.01 L559.34,390.27 L560.33,389.51 L561.31,388.72 L562.30,387.91 L563.28,387.07 L564.27,386.21 L565.25,385.32 L566.24,384.40 L567.22,383.45 L568.21,382.48 L569.20,381.47 L570.18,380.43 L571.17,379.35 L572.15,378.24 L573.14,377.10 L574.12,375.92 L575.11,374.71 L576.09,373.46 L577.08,372.16 L578.07,370.83 L579.05,369.46 L580.04,368.04 L581.02,366.58 L582.01,365.07 L582.99,363.52 L583.98,361.92 L584.96,360.26 L585.95,358.56" stroke="#c21218" stroke-width="2.1" fill="none" stroke-linejoin="round"/>
<path clip-path="url(#c4)" d="M350.40,413.09L585.95,358.56" stroke="#c21218" stroke-width="1.4" stroke-dasharray="7.35 7.3" fill="none"/>
<circle cx="468.18" cy="385.96" r="3.2" fill="#fa1414"/>
<path d="M468.18,382.16L468.18,389.76M464.88,384.06L471.47,387.86M471.47,384.06L464.88,387.86" stroke="#fa1414" stroke-width="1.5" fill="none"/>
<circle cx="468.18" cy="397.20" r="3.7" fill="#000"/>
<text x="350.40" y="427.70" text-anchor="middle" font-size="12.2">110</text>
<text x="409.29" y="427.70" text-anchor="middle" font-size="12.2">115</text>
<text x="468.18" y="427.70" text-anchor="middle" font-size="12.2">120</text>
<text x="527.06" y="427.70" text-anchor="middle" font-size="12.2">125</text>
<text x="585.95" y="427.70" text-anchor="middle" font-size="12.2">130</text>
<text x="346.80" y="417.00" text-anchor="end" font-size="12.2">0</text>
<text x="346.80" y="391.63" text-anchor="end" font-size="12.2">1</text>
<text x="346.80" y="366.27" text-anchor="end" font-size="12.2">2</text>
<text x="346.80" y="340.90" text-anchor="end" font-size="12.2">3</text>
<text x="346.80" y="315.53" text-anchor="end" font-size="12.2">4</text>
<text x="346.80" y="290.17" text-anchor="end" font-size="12.2">5</text>
<text x="346.80" y="264.80" text-anchor="end" font-size="12.2">6</text>
<text x="468.18" y="251.5" text-anchor="middle" font-weight="bold" font-size="12.2">Adsorbate Pump</text>
<text x="349.8" y="254.8" font-size="12.2">x 10<tspan dx="0.3" dy="-6.2" font-size="8">−</tspan><tspan font-size="9.2">10</tspan></text>
<text x="468.18" y="441.7" text-anchor="middle" font-size="12.35">Temperature (K)</text>
<text transform="translate(332.8,336.30) rotate(-90)" text-anchor="middle" font-size="12.35">Equilibrium Vapor Pressure (Pa)</text>
<text x="568.4" y="276.1" text-anchor="middle" font-size="11.2" >(d)</text>
<text x="462" y="389.3" text-anchor="end" font-size="12.2" >surface mean</text>
<text x="475.3" y="402.0" text-anchor="start" font-size="12.2" >subsurface</text>
<rect x="356.5" y="267.1" width="103.10000000000002" height="66.89999999999998" fill="#fff" stroke="#3a3a3a" stroke-width="1.0"/>
<path d="M363.0,279.1H394.9" stroke="#0909b8" stroke-width="2.1" fill="none"/>
<text x="398.8" y="278.30" font-size="12.2" textLength="14.8" lengthAdjust="spacing">θ/θ</text>
<text x="414.60" y="283.60" font-size="9.8">m</text>
<text x="422.00" y="278.30" font-size="12.2">=∞</text>
<path d="M363.0,300.9H394.9" stroke="#ee7e22" stroke-width="2.1" fill="none"/>
<text x="398.8" y="300.10" font-size="12.2" textLength="14.8" lengthAdjust="spacing">θ/θ</text>
<text x="414.60" y="305.40" font-size="9.8">m</text>
<text x="422.00" y="300.10" font-size="12.2">=0.3</text>
<path d="M363.0,322.0H394.9" stroke="#c21218" stroke-width="2.1" fill="none"/>
<text x="398.8" y="321.20" font-size="12.2" textLength="14.8" lengthAdjust="spacing">θ/θ</text>
<text x="414.60" y="326.50" font-size="9.8">m</text>
<text x="422.00" y="321.20" font-size="12.2">=0.03</text>
</svg>
</body></html>
